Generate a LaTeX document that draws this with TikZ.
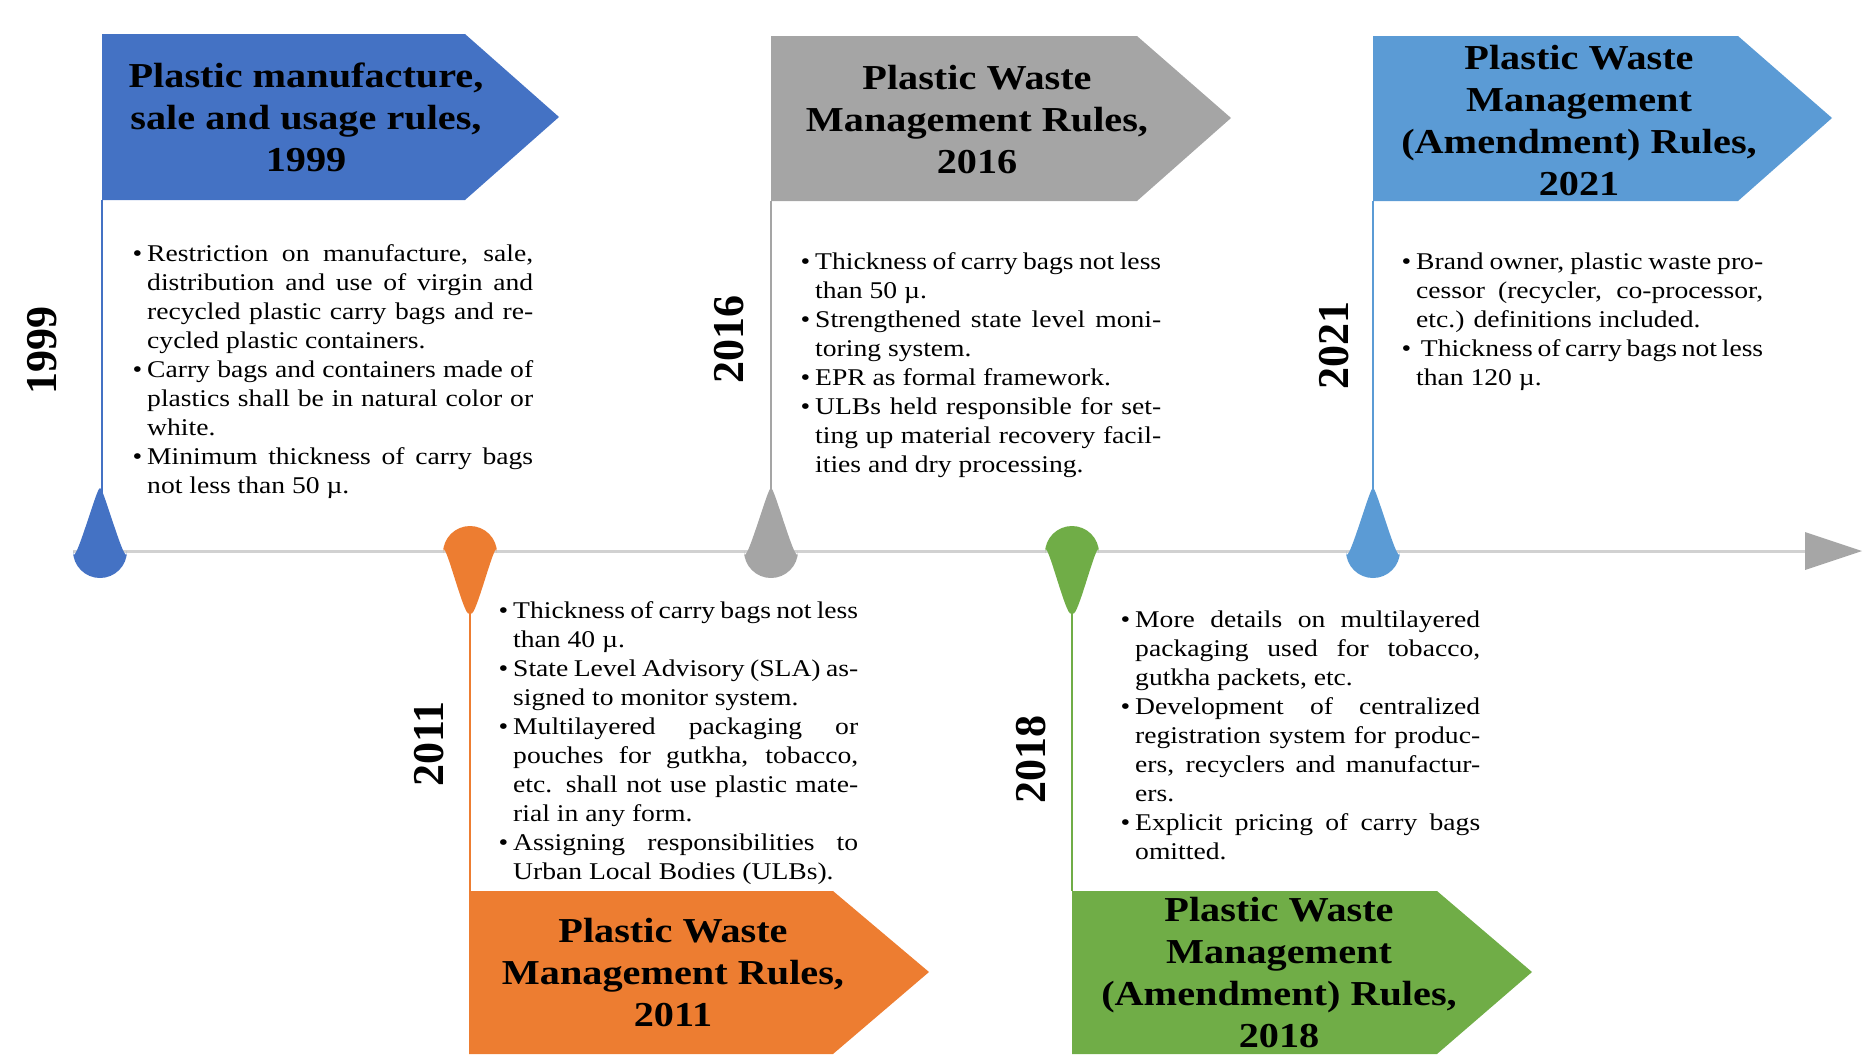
\documentclass[tikz,border=0pt]{standalone}
\usepackage{fontspec}
\setmainfont{Liberation Serif}
\newfontfamily\wide[FakeStretch=1.15]{Liberation Serif}
\usepackage{enumitem}
\definecolor{cA}{HTML}{4472C4}
\definecolor{cB}{HTML}{ED7D31}
\definecolor{cC}{HTML}{A5A5A5}
\definecolor{cD}{HTML}{70AD47}
\definecolor{cE}{HTML}{5B9BD5}
\begin{document}
\begin{tikzpicture}[x=1pt,y=-1pt,
  title/.style={align=center,font=\wide\fontsize{35}{42}\selectfont\bfseries,text=black},
  body/.style={anchor=north west,text width=#1,align=justify,font=\wide\fontsize{24}{29}\selectfont,inner sep=0pt},
  year/.style={rotate=90,font=\fontsize{44}{46}\selectfont\bfseries},
  stem/.style={line width=1.2pt}]
\useasboundingbox (0,0) rectangle (1874,1058);
\setlist[itemize]{leftmargin=32pt,nosep,label=\textbullet}
% axis
\draw[line width=3pt,color=black!18] (73,551) -- (1805,551);
\fill[color=black!35] (1805,532) -- (1862,551) -- (1805,570) -- cycle;
% stems
\draw[stem,cA] (102,200) -- (102,505);
\draw[stem,cC] (771,201) -- (771,505);
\draw[stem,cE] (1373,201) -- (1373,505);
\draw[stem,cB] (470,600) -- (470,891);
\draw[stem,cD] (1072,600) -- (1072,891);
% drops
\foreach \x/\c in {100/cA,771/cC,1373/cE}{
  \fill[\c] (\x,492) to[out=95,in=-90] (\x+27,551) arc(0:180:27) to[out=-90,in=85] (\x,492);}
\foreach \x/\c in {470/cB,1072/cD}{
  \fill[\c] (\x,610) to[out=-95,in=90] (\x-27,553) arc(180:360:27) to[out=90,in=-85] (\x,610);}
% banners
\fill[cA] (102,34) -- (465,34) -- (559,117) -- (465,200) -- (102,200) -- cycle;
\node[title] (t1) at (306,117) {Plastic manufacture,\\sale and usage rules,\\1999};
\fill[cC] (771,36) -- (1137,36) -- (1231,118) -- (1137,201) -- (771,201) -- cycle;
\node[title] (t2) at (977,120) {Plastic Waste\\Management Rules,\\2016};
\fill[cE] (1373,36) -- (1738,36) -- (1832,118) -- (1738,201) -- (1373,201) -- cycle;
\node[title] (t3) at (1579,121) {Plastic Waste\\Management\\(Amendment) Rules,\\2021};
\fill[cB] (469,891) -- (833,891) -- (929,972) -- (833,1054) -- (469,1054) -- cycle;
\node[title] (t4) at (673,973) {Plastic Waste\\Management Rules,\\2011};
\fill[cD] (1072,891) -- (1437,891) -- (1532,972) -- (1437,1054) -- (1072,1054) -- cycle;
\node[title] (t5) at (1279,973) {Plastic Waste\\Management\\(Amendment) Rules,\\2018};
% years
\node[year] (y1) at (42,350) {1999};
\node[year] (y2) at (729,339) {2016};
\node[year] (y3) at (1334,345) {2021};
\node[year] (y4) at (429,744) {2011};
\node[year] (y5) at (1031,759) {2018};
% bodies
\node[body=418pt] (b1) at (115,232) {\begin{itemize}
\item Restriction on manufacture, sale, distribution and use of virgin and recycled plastic carry bags and recycled plastic containers.
\item Carry bags and containers made of plastics shall be in natural color or white.
\item Minimum thickness of carry bags\ \ not less than 50 µ.
\end{itemize}};
\node[body=378pt] (b2) at (783,240) {\begin{itemize}
\item Thickness of carry bags not less than 50 µ.
\item Strengthened state level monitoring system.
\item EPR as formal framework.
\item ULBs held responsible for setting up material recovery facilities and dry processing.
\end{itemize}};
\node[body=379pt] (b3) at (1384,240) {\begin{itemize}
\item Brand owner, plastic waste processor (recycler, co-processor, etc.) definitions included.
\item \ Thickness of carry bags not less than 120 µ.
\end{itemize}};
\node[body=377pt] (b4) at (481,589) {\begin{itemize}
\item Thickness of carry bags not less than 40 µ.
\item State Level Advisory (SLA) assigned to monitor system.
\item Multilayered packaging or pouches for gutkha, tobacco, etc. shall not use plastic material in any form.
\item Assigning responsibilities to Urban Local Bodies (ULBs).
\end{itemize}};
\node[body=377pt] (b5) at (1103,598) {\begin{itemize}
\item More details on multilayered packaging used for tobacco, gutkha packets, etc.
\item Development of centralized registration system for producers, recyclers and manufacturers.
\item Explicit pricing of carry bags omitted.
\end{itemize}};
\end{tikzpicture}
\end{document}
